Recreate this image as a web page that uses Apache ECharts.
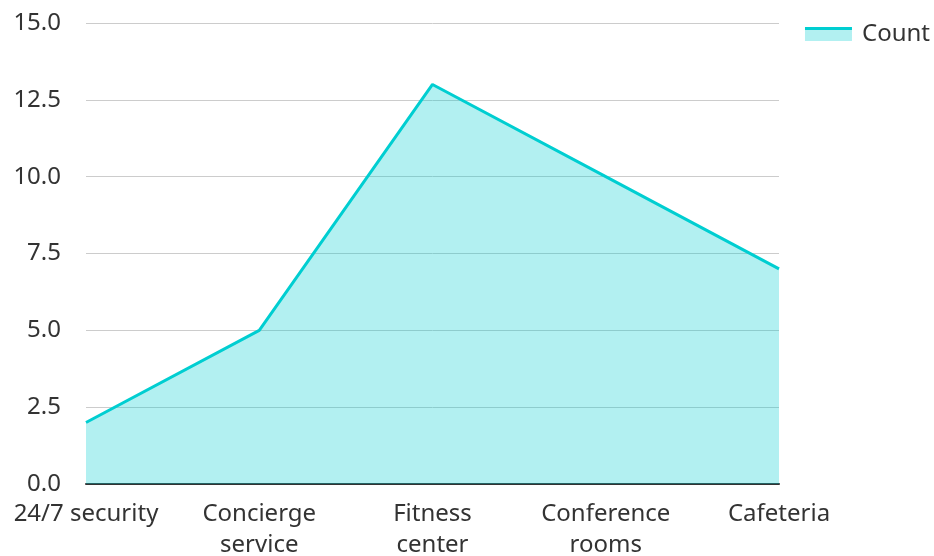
<!DOCTYPE html>
<html><head><meta charset="utf-8">
<script src="https://cdn.jsdelivr.net/npm/echarts@6/dist/echarts.min.js"></script>
<style>html,body{margin:0;padding:0;background:#fff}#c{width:934px;height:556px}</style>
</head><body><div id="c"></div>
<script>
const categories = ["24/7 security", "Concierge\nservice", "Fitness\ncenter", "Conference\nrooms", "Cafeteria"];
const counts = [2, 5, 13, 10, 7];
const seriesName = "Count";

const chart = echarts.init(document.getElementById('c'), null, {renderer: 'canvas'});
chart.setOption({
  animation: false,
  textStyle: {fontFamily: 'Noto Sans'},
  legend: {
    right: 4, top: 22, padding: 0, itemWidth: 47, itemHeight: 14, itemGap: 10,
    icon: 'rect',
    itemStyle: {
      borderWidth: 0,
      color: {type: 'linear', x: 0, y: 0, x2: 0, y2: 1, colorStops: [
        {offset: 0, color: '#00CED1'}, {offset: 0.24, color: '#00CED1'},
        {offset: 0.24, color: '#B2F0F1'}, {offset: 1, color: '#B2F0F1'}]}
    },
    textStyle: {fontSize: 24, color: '#333', fontFamily: 'Noto Sans', padding: [0, 0, 16, 5]}
  },
  grid: {left: 86, right: 155, top: 23, bottom: 72, containLabel: false, outerBoundsMode: 'none'},
  xAxis: {
    type: 'category', data: categories, boundaryGap: false,
    axisLine: {lineStyle: {color: '#333', width: 2}},
    axisTick: {show: false},
    axisLabel: {interval: 0, fontSize: 24, color: '#333', margin: 15, lineHeight: 31, fontFamily: 'Noto Sans'}
  },
  yAxis: {
    type: 'value', min: 0, max: 15, interval: 2.5,
    axisLine: {show: false}, axisTick: {show: false},
    splitLine: {lineStyle: {color: '#ccc', width: 1}},
    axisLabel: {fontSize: 24, color: '#333', margin: 25, fontFamily: 'Noto Sans',
      formatter: v => v.toFixed(1)}
  },
  series: [{
    name: seriesName, type: 'line', data: counts,
    showSymbol: false, symbol: 'none',
    lineStyle: {color: '#00CED1', width: 3},
    itemStyle: {color: '#00CED1'},
    areaStyle: {color: '#00CED1', opacity: 0.3}
  }]
});
</script></body></html>
